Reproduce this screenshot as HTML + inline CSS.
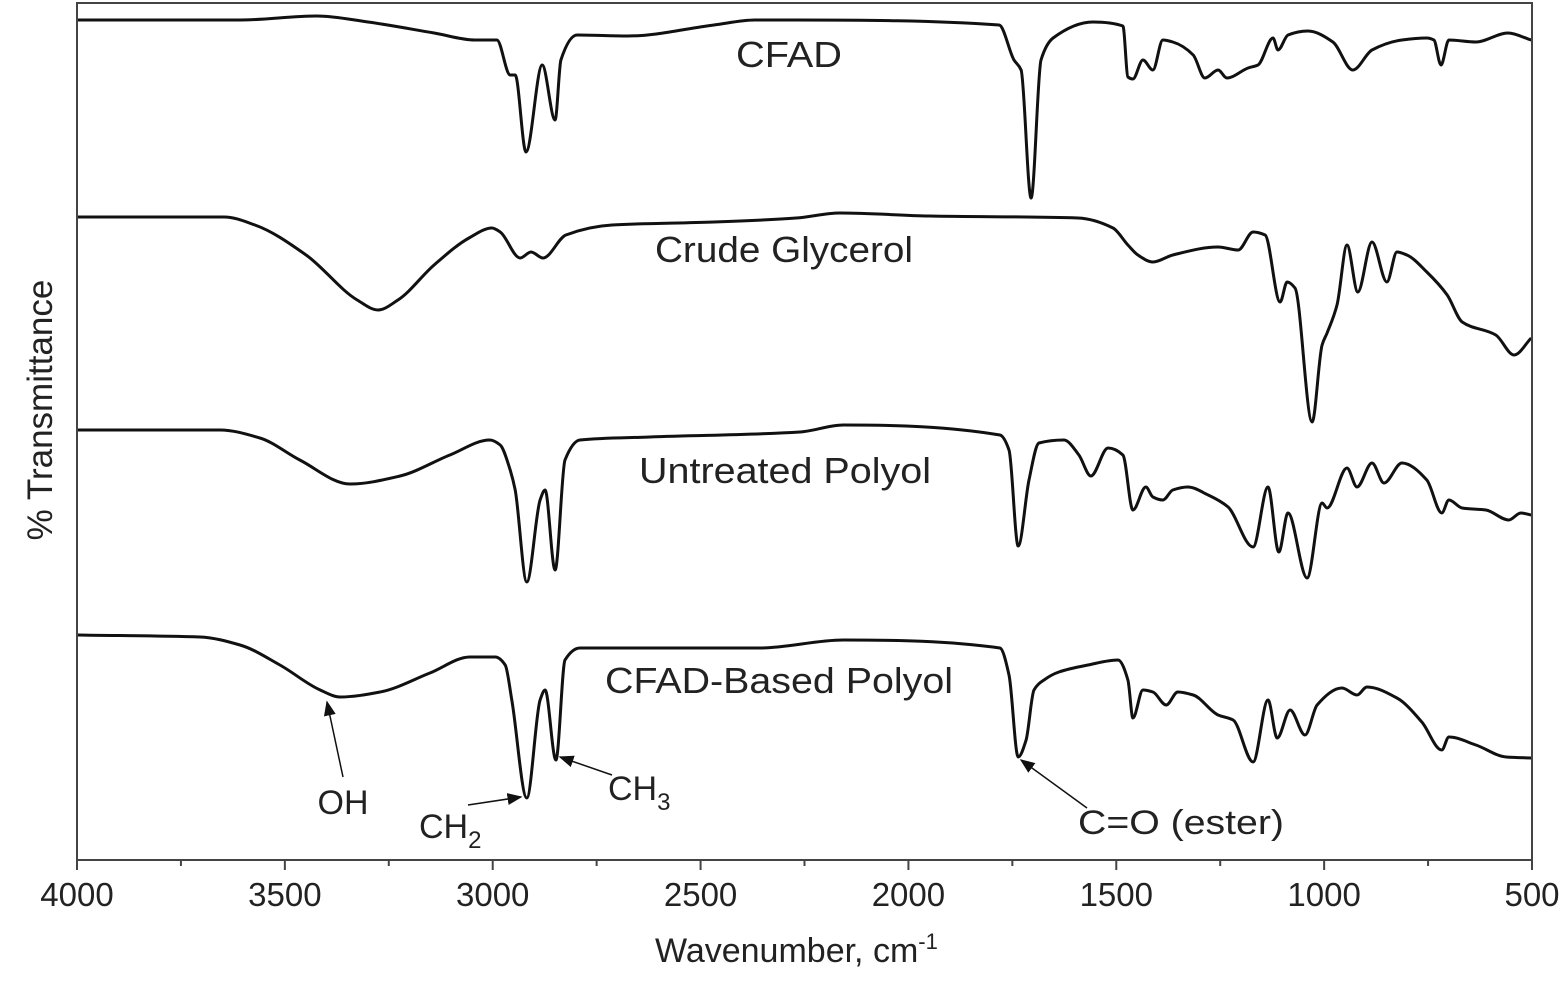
<!DOCTYPE html>
<html><head><meta charset="utf-8">
<style>
html,body{margin:0;padding:0;background:#fff;}
svg{display:block;font-family:"Liberation Sans",Arial,sans-serif;}
</style></head>
<body>
<svg id="chart" width="1560" height="982" viewBox="0 0 1560 982" xmlns="http://www.w3.org/2000/svg">
<defs><marker id="ah" markerWidth="10" markerHeight="8" refX="9" refY="4" orient="auto"><path d="M0,0 L10,4 L0,8 z" fill="#111"/></marker></defs>
<g id="series"></g>
<g id="axes"></g>
<g font-size="36" fill="#222">
<text x="736" y="67" textLength="106" lengthAdjust="spacingAndGlyphs">CFAD</text>
<text x="655" y="262" textLength="258" lengthAdjust="spacingAndGlyphs">Crude Glycerol</text>
<text x="639" y="483" textLength="292" lengthAdjust="spacingAndGlyphs">Untreated Polyol</text>
<text x="605" y="693" textLength="348" lengthAdjust="spacingAndGlyphs">CFAD-Based Polyol</text>
</g>
<g font-size="34" fill="#222" stroke-width="1.5">
<text x="343" y="814" text-anchor="middle">OH</text>
<line x1="343" y1="777" x2="327" y2="702" stroke="#111" marker-end="url(#ah)"/>
<text x="419" y="838">CH<tspan font-size="24" dy="10">2</tspan></text>
<line x1="468" y1="805" x2="521" y2="797" stroke="#111" marker-end="url(#ah)"/>
<text x="608" y="800">CH<tspan font-size="24" dy="10">3</tspan></text>
<line x1="612" y1="775" x2="560" y2="757" stroke="#111" marker-end="url(#ah)"/>
<text x="1078" y="834" textLength="206" lengthAdjust="spacingAndGlyphs">C=O (ester)</text>
<line x1="1087" y1="808" x2="1021" y2="760" stroke="#111" marker-end="url(#ah)"/>
</g>
<text x="655" y="962" font-size="34" fill="#222">Wavenumber, cm<tspan font-size="22" dy="-13">-1</tspan></text>
<text transform="translate(52,410) rotate(-90)" font-size="35" fill="#222" text-anchor="middle">% Transmittance</text>
</svg>
<script>
const xTicks = [4000,3500,3000,2500,2000,1500,1000,500];
const seriesNames = ["CFAD","Crude Glycerol","Untreated Polyol","CFAD-Based Polyol"];
const cfadWn = [4000,3608,3423,3300,3141,3043,2990,2958,2946,2920,2881,2850,2836,2797,2675,2468,2369,2270,1782,1746,1729,1705,1681,1652,1556,1484,1472,1460,1436,1412,1388,1364,1315,1287,1255,1234,1183,1159,1123,1111,1087,1039,979,931,885,813,753,736,719,700,635,558,502];
const cfadT = [840,840,844,838,827,820,820,785,785,708,795,740,800,825,824,835,840,840,835,800,790,662,800,822,838,834,783,781,800,790,820,818,805,782,790,782,792,795,822,810,825,829,818,790,810,820,822,820,795,820,818,827,820];
const glyWn = [4000,3646,3572,3449,3326,3276,3228,3141,3057,3002,2982,2934,2908,2879,2824,2713,2468,2270,2165,1950,1592,1508,1472,1448,1412,1364,1255,1207,1171,1142,1106,1089,1070,1029,1005,993,969,945,919,885,849,825,801,753,704,668,587,543,502];
const glyT = [643,643,635,605,560,550,560,595,622,632,628,602,608,602,625,635,638,642,647,644,642,632,615,605,598,605,613,610,628,625,558,578,572,438,515,527,555,615,568,618,578,608,605,588,565,538,525,505,522];
const untWn = [4000,3656,3560,3464,3343,3223,3103,3007,2982,2958,2946,2918,2886,2874,2850,2826,2790,2622,2261,2157,1780,1758,1736,1710,1686,1626,1590,1561,1520,1484,1460,1429,1412,1388,1364,1328,1279,1231,1171,1135,1109,1087,1041,1005,993,945,921,885,856,813,753,717,700,668,611,556,527,502];
const untT = [430,430,422,400,376,384,405,420,415,390,370,278,360,370,290,400,420,423,428,435,425,410,314,380,417,420,405,384,412,405,350,373,363,360,370,373,365,353,313,373,308,347,282,357,352,392,373,397,377,397,380,347,360,352,350,340,347,345];
const cbpWn = [4000,3704,3608,3512,3415,3367,3271,3151,3055,2994,2970,2954,2918,2886,2874,2848,2826,2790,2501,2357,2157,1780,1758,1736,1717,1698,1674,1638,1568,1496,1472,1460,1436,1412,1380,1352,1315,1255,1219,1171,1135,1113,1082,1046,1017,957,921,897,825,765,717,700,635,562,502];
const cbpT = [225,223,215,195,170,163,168,187,203,203,195,160,62,160,170,100,200,212,212,212,220,212,185,103,120,170,180,188,195,200,180,142,170,168,155,168,165,145,140,98,160,122,150,125,155,172,165,173,162,138,110,123,115,103,102];

const X0=77, X1=1532, Y0=860, Y1=3;
const xScale = w => X0 + (4000 - w) * (X1 - X0) / 3500;
const yScale = t => Y0 - t * (Y0 - Y1) / 857;
const NS="http://www.w3.org/2000/svg";

// monotone cubic in x (Fritsch-Carlson / monotoneX)
function pathFor(wn, t){
  const p = wn.map((w,i)=>[xScale(w), yScale(t[i])]);
  const n=p.length, h=[], s=[], m=[];
  for(let i=0;i<n-1;i++){h[i]=p[i+1][0]-p[i][0]; s[i]=(p[i+1][1]-p[i][1])/h[i];}
  m[0]=s[0]; m[n-1]=s[n-2];
  for(let i=1;i<n-1;i++){
    if(s[i-1]*s[i]<=0) m[i]=0;
    else { const w1=2*h[i]+h[i-1], w2=h[i]+2*h[i-1]; m[i]=(w1+w2)/(w1/s[i-1]+w2/s[i]); }
  }
  let d="M"+p[0][0].toFixed(1)+","+p[0][1].toFixed(1);
  for(let i=0;i<n-1;i++){
    const dx=h[i]/3;
    d+=" C"+(p[i][0]+dx).toFixed(1)+","+(p[i][1]+m[i]*dx).toFixed(1)+" "+(p[i+1][0]-dx).toFixed(1)+","+(p[i+1][1]-m[i+1]*dx).toFixed(1)+" "+p[i+1][0].toFixed(1)+","+p[i+1][1].toFixed(1);
  }
  return d;
}
const sg=document.getElementById("series");
const allData=[[cfadWn,cfadT,"cfad"],[glyWn,glyT,"crude-glycerol"],[untWn,untT,"untreated-polyol"],[cbpWn,cbpT,"cfad-based-polyol"]];
allData.forEach(s=>{
  const el=document.createElementNS(NS,"path");
  el.setAttribute("d",pathFor(s[0],s[1]));
  el.setAttribute("fill","none");
  el.setAttribute("stroke","#111");
  el.setAttribute("stroke-width","3");
  el.setAttribute("stroke-linejoin","round");
  
  
  sg.appendChild(el);
});
const ag=document.getElementById("axes");
const frame=document.createElementNS(NS,"rect");
frame.setAttribute("x",X0);frame.setAttribute("y",Y1);
frame.setAttribute("width",X1-X0);frame.setAttribute("height",Y0-Y1);
frame.setAttribute("fill","none");frame.setAttribute("stroke","#444");frame.setAttribute("stroke-width","2");


ag.appendChild(frame);
for(let w=4000; w>=500; w-=250){
  const major = xTicks.includes(w);
  const ln=document.createElementNS(NS,"line");
  ln.setAttribute("x1",xScale(w));ln.setAttribute("x2",xScale(w));
  ln.setAttribute("y1",Y0);ln.setAttribute("y2",Y0+(major?10:6));
  ln.setAttribute("stroke","#444");ln.setAttribute("stroke-width","2");
  
  
  ag.appendChild(ln);
}
xTicks.forEach(w=>{
  const tx=document.createElementNS(NS,"text");
  tx.setAttribute("x",xScale(w));tx.setAttribute("y",906);
  tx.setAttribute("font-size","33");tx.setAttribute("fill","#222");
  tx.setAttribute("text-anchor","middle");
  tx.textContent=w;
  
  
  ag.appendChild(tx);
});
</script>
</body></html>
